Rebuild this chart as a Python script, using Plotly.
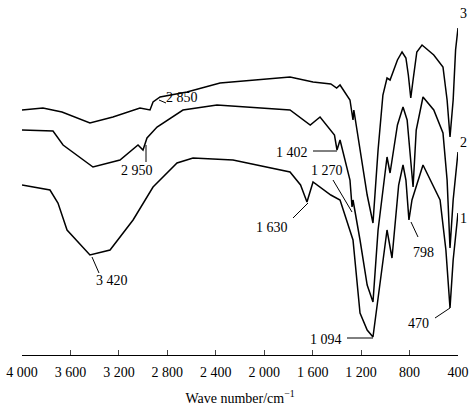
import plotly.graph_objects as go

# wavenumber (cm-1) and relative transmittance (arbitrary units)
w3 = [4000,3827,3670,3439,3249,3026,2943,2918,2860,2638,2365,1787,1597,1450,1402,1374,1292,1275,1267,1260,1209,1150,1102,1060,1020,986,961,900,862,830,810,790,771,740,697,600,524,490,466,440,420,400]
p3 = [110,108,112,123,117,108,110,102,97,92,83,77,82,84,88,85,100,115,120,110,150,195,223,150,95,78,80,60,52,58,75,98,80,52,45,55,67,100,137,100,50,28]
w2 = [4000,3744,3661,3414,3191,3042,3001,2968,2885,2671,2390,1787,1620,1539,1420,1399,1374,1292,1275,1267,1209,1150,1102,1060,986,961,900,854,820,800,771,745,689,600,524,490,466,440,400]
p2 = [130,131,145,167,160,145,150,138,127,110,105,110,125,117,135,150,140,180,207,200,240,285,302,230,157,173,125,107,120,150,187,130,97,110,133,180,248,200,152]
w1 = [4000,3769,3703,3628,3439,3273,3083,2918,2720,2588,2258,1787,1700,1647,1597,1450,1374,1267,1209,1150,1102,1060,986,945,890,854,830,805,780,689,548,500,466,440,400]
p1 = [185,190,203,230,255,250,220,187,163,158,160,172,185,202,182,195,200,240,313,330,337,300,230,258,185,165,180,220,200,165,200,250,308,260,213]

tickvals = [4000,3600,3200,2800,2400,2000,1600,1200,800,400]
ticktext = ["4 000","3 600","3 200","2 800","2 400","2 000","1 600","1 200","800","400"]

W_, H_ = 474, 414
L, R, B = 22, 458, 355

def T(p):
    return [360 - v for v in p]

fig = go.Figure()
for w, p in [(w1, p1), (w2, p2), (w3, p3)]:
    fig.add_trace(go.Scatter(x=w, y=T(p), mode="lines", line=dict(color="black", width=1.5), showlegend=False))

font = dict(family="Liberation Serif", size=14, color="black")
def PX(px): return (px - L) / (R - L)
def PY(py): return (B - py) / B

labels = [("3",463,14),("2",463,142),("1",463,218),("2 850",182,98),("2 950",137,170),
          ("3 420",112,280),("1 630",272,227),("1 402",292,152),("1 270",327,170),
          ("798",423,253),("470",418,323),("1 094",326,339)]
for t, x, y in labels:
    fig.add_annotation(x=PX(x), y=PY(y), text=t, showarrow=False, font=font, xref="paper", yref="paper",
                       xanchor="center", yanchor="middle")
leaders = [(159,100,166,103),(146,145,146,162),(92,257,99,273),(293,218,308,203),
           (313,151,337,151),(333,180,352,212),(411,222,418,237),(435,318,450,308),(347,338,373,338)]
for x0,y0,x1,y1 in leaders:
    fig.add_shape(type="line", x0=PX(x0), y0=PY(y0), x1=PX(x1), y1=PY(y1), xref="paper", yref="paper",
                  line=dict(color="black", width=1))

fig.update_xaxes(range=[4000,400], tickvals=tickvals, ticktext=ticktext, ticks="inside", ticklen=5,
                 showline=True, linecolor="black", linewidth=1, showgrid=False, zeroline=False,
                 ticklabeloverflow="allow", ticklabelstandoff=4,
                 tickfont=font, title=dict(text="Wave number/cm<sup>−1</sup>", font=font, standoff=14))
fig.update_yaxes(range=[5,360], visible=False)
fig.update_layout(width=W_, height=H_, margin=dict(l=L, r=W_-R, t=0, b=H_-B),
                  plot_bgcolor="white", paper_bgcolor="white")
fig.write_html("out.html", config={"displayModeBar": False},
               post_script="document.body.style.margin='0';document.body.style.overflow='hidden';")
